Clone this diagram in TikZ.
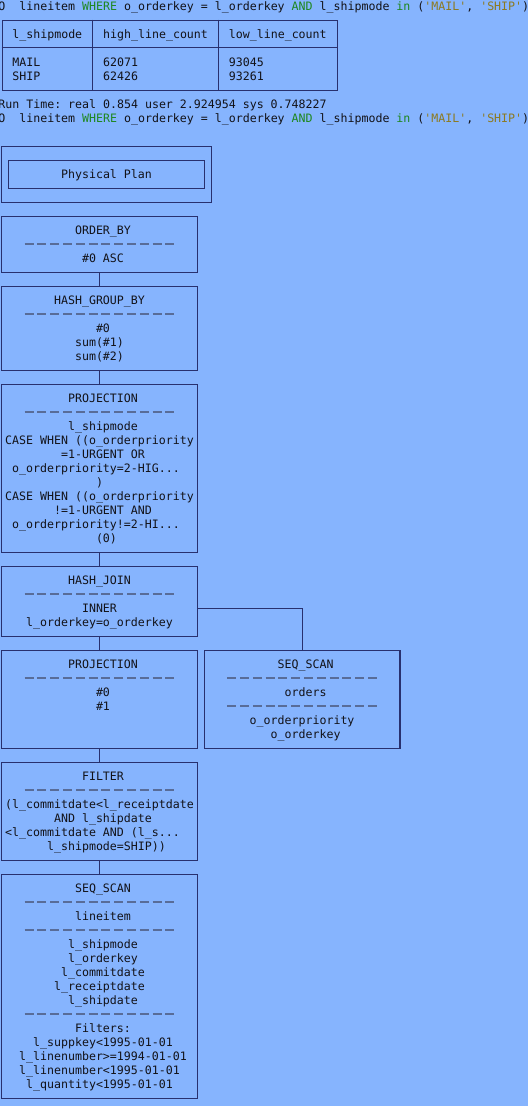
\documentclass[tikz,border=0pt]{standalone}
\usepackage{fontspec}
\setmonofont{DejaVu Sans Mono}
\usepackage{tikz}
\usetikzlibrary{positioning}
\usepackage{xcolor}

\definecolor{termbg}{RGB}{134,180,254}
\definecolor{boxline}{RGB}{40,48,110}
\definecolor{sepdash}{RGB}{88,108,152}
\definecolor{kwgreen}{RGB}{30,135,30}
\definecolor{strolive}{RGB}{140,122,32}
\definecolor{termtext}{RGB}{18,18,24}

% half a character cell, to push a line of even length to the right
\newcommand\hs{\hphantom{0}}

\tikzset{
  box/.style={draw=boxline,line width=1.2pt,minimum width=195.6pt,inner sep=0},
  txt/.style={inner sep=0,anchor=base,align=center,text=termtext,
    font=\ttfamily\fontsize{11.6}{14}\selectfont},
  row/.style={inner sep=0,anchor=base west,align=left,text=termtext,
    font=\ttfamily\fontsize{11.6}{14}\selectfont},
  sep/.style={draw=sepdash,line width=2pt,dash pattern=on 9pt off 3.8pt},
  link/.style={draw=boxline,line width=1.2pt}
}

\begin{document}
\begin{tikzpicture}[x=1pt,y=-1pt]
\useasboundingbox[fill=termbg] (0,0) rectangle (528,1106);

% query output (multi-line nodes sit on the baseline of their last line)
\node[row] (q1) at (-1.8,10) {O\ \ lineitem \textcolor{kwgreen}{WHERE} o\_orderkey = l\_orderkey \textcolor{kwgreen}{AND} l\_shipmode \textcolor{kwgreen}{in} (\textcolor{strolive}{'MAIL'}, \textcolor{strolive}{'SHIP'})};
\node[box,anchor=north west,minimum width=335.3pt,minimum height=70pt] (tbl) at (1.7,19.7) {};
\draw[link] (92.5,19.7) -- (92.5,89.7);
\draw[link] (218.3,19.7) -- (218.3,89.7);
\draw[link] (1.7,47.7) -- (337,47.7);
\node[row] (h1) at (12.2,38) {l\_shipmode};
\node[row] (h2) at (103,38) {high\_line\_count};
\node[row] (h3) at (228.7,38) {low\_line\_count};
\node[row] (c1) at (12.2,80) {MAIL\\SHIP};
\node[row] (c2) at (103,80) {62071\\62426};
\node[row] (c3) at (228.7,80) {93045\\93261};
\node[row] (rt) at (-1.8,108) {Run Time: real 0.854 user 2.924954 sys 0.748227};
\node[row] (q2) at (-1.8,122) {O\ \ lineitem \textcolor{kwgreen}{WHERE} o\_orderkey = l\_orderkey \textcolor{kwgreen}{AND} l\_shipmode \textcolor{kwgreen}{in} (\textcolor{strolive}{'MAIL'}, \textcolor{strolive}{'SHIP'})};

% plan
\path
  (106.5,145.7) node[box,below,minimum width=209.6pt,minimum height=56pt] (pp) {}
  +(0,14) node[box,below,minimum height=28pt] (ppi) {}
  +(0,32.3) node[txt] (ppT) {Physical Plan};
\path
  (99.5,215.7) node[box,below,minimum height=56pt] (ob) {}
  +(0,18.3) node[txt] (obT) {\hs ORDER\_BY}
  +(0,46.3) node[txt] (obA) {\hs\#0 ASC};
\draw[sep] (24.6,243.7) -- +(149.8,0);
\path
  (99.5,285.7) node[box,below,minimum height=84pt] (hg) {}
  +(0,18.3) node[txt] (hgT) {HASH\_GROUP\_BY}
  +(0,74.3) node[txt] (hgA) {\hs\#0\\sum(\#1)\\sum(\#2)};
\draw[sep] (24.6,313.7) -- +(149.8,0);
\path
  (99.5,383.7) node[box,below,minimum height=168pt] (pj) {}
  +(0,18.3) node[txt] (pjT) {\hs PROJECTION}
  +(0,158.3) node[txt] (pjA) {\hs l\_shipmode\\
    CASE WHEN ((o\_orderpriority\\
    \hs=1-URGENT OR\\
    o\_orderpriority=2-HIG...\hs\\
    )\\
    CASE WHEN ((o\_orderpriority\\
    \hs!=1-URGENT AND\\
    o\_orderpriority!=2-HI...\hs\\
    \hs\hs(0)};
\draw[sep] (24.6,411.7) -- +(149.8,0);
\path
  (99.5,565.7) node[box,below,minimum height=70pt] (hj) {}
  +(0,18.3) node[txt] (hjT) {HASH\_JOIN}
  +(0,60.3) node[txt] (hjA) {INNER\\l\_orderkey=o\_orderkey};
\draw[sep] (24.6,593.7) -- +(149.8,0);
\path
  (99.5,649.7) node[box,below,minimum height=98pt] (pk) {}
  +(0,18.3) node[txt] (pkT) {\hs PROJECTION}
  +(0,60.3) node[txt] (pkA) {\hs\#0\\\hs\#1};
\draw[sep] (24.6,677.7) -- +(149.8,0);
\path
  (302.1,649.7) node[box,below,minimum height=98pt] (so) {}
  +(0,18.3) node[txt] (soT) {\hs SEQ\_SCAN}
  +(0,46.3) node[txt] (soA) {\hs orders}
  +(0,88.3) node[txt] (soB) {o\_orderpriority\\\hs o\_orderkey};
\draw[sep] (227.2,677.7) -- +(149.8,0);
\draw[sep] (227.2,705.7) -- +(149.8,0);
\path
  (99.5,761.7) node[box,below,minimum height=98pt] (fl) {}
  +(0,18.3) node[txt] (flT) {\hs FILTER}
  +(0,88.3) node[txt] (flA) {(l\_commitdate<l\_receiptdate\\
    \hs AND l\_shipdate\\
    <l\_commitdate AND (l\_s...\hs\hs\\
    \hs\hs l\_shipmode=SHIP))};
\draw[sep] (24.6,789.7) -- +(149.8,0);
\path
  (99.5,873.7) node[box,below,minimum height=224pt] (sl) {}
  +(0,18.3) node[txt] (slT) {\hs SEQ\_SCAN}
  +(0,46.3) node[txt] (slA) {\hs lineitem}
  +(0,130.3) node[txt] (slB) {\hs l\_shipmode\\\hs l\_orderkey\\\hs l\_commitdate\\
    l\_receiptdate\\\hs l\_shipdate}
  +(0,214.3) node[txt] (slC) {\hs Filters:\\\hs l\_suppkey<1995-01-01\\
    \hs l\_linenumber>=1994-01-01\\l\_linenumber<1995-01-01\\l\_quantity<1995-01-01};
\draw[sep] (24.6,901.7) -- +(149.8,0);
\draw[sep] (24.6,929.7) -- +(149.8,0);
\draw[sep] (24.6,1013.7) -- +(149.8,0);

% links
\draw[link] (ob) -- (hg);
\draw[link] (hg) -- (pj);
\draw[link] (pj) -- (hj);
\draw[link] (hj) -- (pk);
\draw[link] ([yshift=-7pt]hj.east) -| (so.north);
\draw[link] (pk) -- (fl);
\draw[link] (fl) -- (sl);
\end{tikzpicture}
\end{document}
